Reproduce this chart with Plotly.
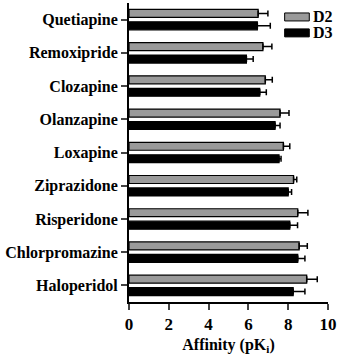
import plotly.graph_objects as go

drugs = ["Haloperidol", "Chlorpromazine", "Risperidone", "Ziprazidone", "Loxapine",
         "Olanzapine", "Clozapine", "Remoxipride", "Quetiapine"]
d2_values = [8.93, 8.55, 8.48, 8.27, 7.76, 7.59, 6.85, 6.73, 6.49]
d2_err = [0.53, 0.41, 0.51, 0.16, 0.32, 0.45, 0.35, 0.45, 0.49]
d3_values = [8.25, 8.48, 8.08, 8.00, 7.54, 7.34, 6.57, 5.90, 6.45]
d3_err = [0.59, 0.36, 0.39, 0.17, 0.10, 0.25, 0.33, 0.34, 0.65]
x_ticks = [0, 2, 4, 6, 8, 10]

FONT = "Liberation Serif, Times New Roman, serif"
GRAY = "#9a9a9a"

fig = go.Figure()
# D3 first so that, in horizontal grouped bars, D2 sits above D3
fig.add_trace(go.Bar(
    name="D3", y=drugs, x=d3_values, orientation="h",
    marker=dict(color="black", line=dict(color="black", width=1.2)),
    error_x=dict(type="data", array=d3_err, arrayminus=[0]*len(d3_err), symmetric=False,
                 color="black", thickness=1.5, width=3),
    showlegend=False,
))
fig.add_trace(go.Bar(
    name="D2", y=drugs, x=d2_values, orientation="h",
    marker=dict(color=GRAY, line=dict(color="black", width=1.2)),
    error_x=dict(type="data", array=d2_err, arrayminus=[0]*len(d2_err), symmetric=False,
                 color="black", thickness=1.5, width=3),
    showlegend=False,
))

# legend drawn manually (wide rectangular swatches like the original)
legend_items = [("D2", GRAY), ("D3", "black")]
for i, (name, col) in enumerate(legend_items):
    y_top = 1 - (10 + i * 16) / 300
    y_bot = 1 - (18 + i * 16) / 300
    fig.add_shape(type="rect", xref="paper", yref="paper",
                  x0=(287 - 129) / 202, x1=(312 - 129) / 202, y0=y_bot, y1=y_top,
                  fillcolor=col, line=dict(color="black", width=1))
    fig.add_annotation(xref="paper", yref="paper", x=(314 - 129) / 202, y=(y_top + y_bot) / 2,
                       text="<b>" + name + "</b>", showarrow=False, xanchor="left", yanchor="middle",
                       font=dict(family=FONT, size=16, color="black"))

fig.update_layout(
    width=340, height=355,
    margin=dict(l=129, r=9, t=3, b=52),
    paper_bgcolor="white", plot_bgcolor="white",
    barmode="group", bargap=0.25, bargroupgap=0.36,
    font=dict(family=FONT, size=16, color="black"),
    xaxis=dict(
        range=[0, 10], tickvals=x_ticks, ticks="outside", ticklen=6, tickwidth=2,
        showline=True, linecolor="black", linewidth=2, showgrid=False, zeroline=False,
        tickfont=dict(family=FONT, size=17, color="black", weight="bold"),
        title=dict(text="<b>Affinity (pK<sub>i</sub>)</b>", standoff=6,
                   font=dict(family=FONT, size=16, color="black")),
    ),
    yaxis=dict(
        range=[-0.5, 8.5], ticks="outside", ticklen=6, tickwidth=2,
        showline=True, linecolor="black", linewidth=2, showgrid=False,
        tickfont=dict(family=FONT, size=16, color="black", weight="bold"),
    ),
)

fig.write_html("out.html", config={"displayModeBar": False},
               post_script="document.body.style.margin='0';document.body.style.overflow='hidden';")
